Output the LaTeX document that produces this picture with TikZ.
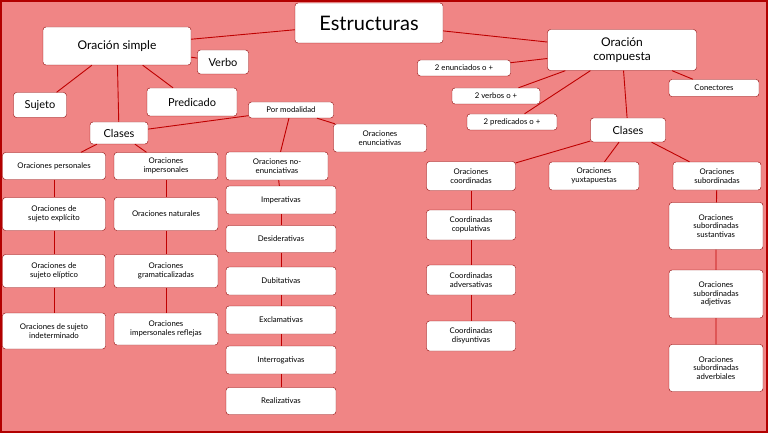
\documentclass[tikz,border=0pt]{standalone}
\usepackage{fontspec}
\setmainfont{Lato}
\begin{document}
\begin{tikzpicture}[x=1pt,y=-1pt,
 box/.style={draw=red!55!black,fill=white,rounded corners=3pt,align=center,inner sep=1pt,font=\fontsize{7.8}{8.6}\selectfont},
 ln/.style={draw=red!75!black,line width=0.9pt}]
\definecolor{bg}{HTML}{F08585}
\fill[bg] (0,0) rectangle (768,433);
\draw[red!70!black,line width=1.2pt] (1,1) rectangle (767,432);
\newcommand{\bx}[6]{\node[box,minimum width=#3,minimum height=#4,#6] (#1) at #2 {#5};}
\bx{est}{(369,23)}{148pt}{40pt}{Estructuras}{font=\fontsize{20}{22}\selectfont}
\bx{os}{(117,46)}{148pt}{38pt}{Oración simple}{font=\fontsize{12}{14}\selectfont}
\bx{verbo}{(223,62)}{51pt}{24pt}{Verbo}{font=\fontsize{11}{13}\selectfont}
\bx{suj}{(40,105)}{53pt}{25pt}{Sujeto}{font=\fontsize{11}{13}\selectfont}
\bx{pred}{(192,102)}{90pt}{28pt}{Predicado}{font=\fontsize{11}{13}\selectfont}
\bx{cl}{(119,133)}{58pt}{22pt}{Clases}{font=\fontsize{11}{13}\selectfont}
\bx{pm}{(291,110)}{85pt}{16pt}{Por modalidad}{}
\bx{enu}{(380,138)}{93pt}{28pt}{Oraciones\\enunciativas}{}
\bx{oc}{(622,50)}{149pt}{41pt}{Oración\\compuesta}{font=\fontsize{12}{14}\selectfont}
\bx{e2}{(464,68)}{93pt}{16pt}{2 enunciados o +}{}
\bx{v2}{(496,96)}{88pt}{16pt}{2 verbos o +}{}
\bx{p2}{(512,122)}{90pt}{16pt}{2 predicados o +}{}
\bx{con}{(714,88)}{90pt}{17pt}{Conectores}{}
\bx{cr}{(628,130)}{75pt}{24pt}{Clases}{font=\fontsize{11}{13}\selectfont}
\bx{a1}{(54,166)}{103pt}{27pt}{Oraciones personales}{}
\bx{a2}{(54,214)}{103pt}{33pt}{Oraciones de\\sujeto explícito}{}
\bx{a3}{(54,271)}{103pt}{33pt}{Oraciones de\\sujeto elíptico}{}
\bx{a4}{(54,331)}{103pt}{36pt}{Oraciones de sujeto\\indeterminado}{}
\bx{b1}{(166,166)}{104pt}{27pt}{Oraciones\\impersonales}{}
\bx{b2}{(166,214)}{104pt}{33pt}{Oraciones naturales}{}
\bx{b3}{(166,271)}{104pt}{33pt}{Oraciones\\gramaticalizadas}{}
\bx{b4}{(166,329)}{104pt}{32pt}{Oraciones\\impersonales reflejas}{}
\bx{c0}{(277,166)}{102pt}{28pt}{Oraciones no-\\enunciativas}{}
\bx{c1}{(281,200)}{110pt}{28pt}{Imperativas}{}
\bx{c2}{(281,239)}{110pt}{27pt}{Desiderativas}{}
\bx{c3}{(281,281)}{110pt}{28pt}{Dubitativas}{}
\bx{c4}{(281,320)}{110pt}{28pt}{Exclamativas}{}
\bx{c5}{(281,360)}{110pt}{28pt}{Interrogativas}{}
\bx{c6}{(281,401)}{110pt}{27pt}{Realizativas}{}
\bx{d1}{(471,176)}{89pt}{29pt}{Oraciones\\coordinadas}{}
\bx{d2}{(471,225)}{89pt}{30pt}{Coordinadas\\copulativas}{}
\bx{d3}{(471,280)}{89pt}{30pt}{Coordinadas\\adversativas}{}
\bx{d4}{(471,336)}{89pt}{30pt}{Coordinadas\\disyuntivas}{}
\bx{yx}{(594,176)}{90pt}{28pt}{Oraciones\\yuxtapuestas}{}
\bx{s1}{(717,176)}{88pt}{28pt}{Oraciones\\subordinadas}{}
\bx{s2}{(716,226)}{94pt}{47pt}{Oraciones\\subordinadas\\sustantivas}{}
\bx{s3}{(716,294)}{94pt}{48pt}{Oraciones\\subordinadas\\adjetivas}{}
\bx{s4}{(716,368)}{94pt}{47pt}{Oraciones\\subordinadas\\adverbiales}{}
\begin{scope}[ln]
\draw (est) -- (os); \draw (est) -- (oc);
\draw (os) -- (verbo); \draw (os) -- (suj); \draw (os) -- (pred); \draw (os) -- (cl);
\draw (cl) -- (pm); \draw (pm) -- (enu); \draw (pm) -- (c0);
\draw (cl) -- (a1); \draw (cl) -- (b1);
\draw (a1) -- (a2) -- (a3) -- (a4);
\draw (b1) -- (b2) -- (b3) -- (b4);
\draw (c0) -- (c1); \draw (c1) -- (c2) -- (c3) -- (c4) -- (c5) -- (c6);
\draw (oc) -- (e2); \draw (oc) -- (v2); \draw (oc) -- (p2); \draw (oc) -- (con); \draw (oc) -- (cr);
\draw (cr) -- (d1); \draw (cr) -- (yx); \draw (cr) -- (s1);
\draw (d1) -- (d2) -- (d3) -- (d4);
\draw (s1) -- (s2) -- (s3) -- (s4);
\end{scope}
\end{tikzpicture}
\end{document}
